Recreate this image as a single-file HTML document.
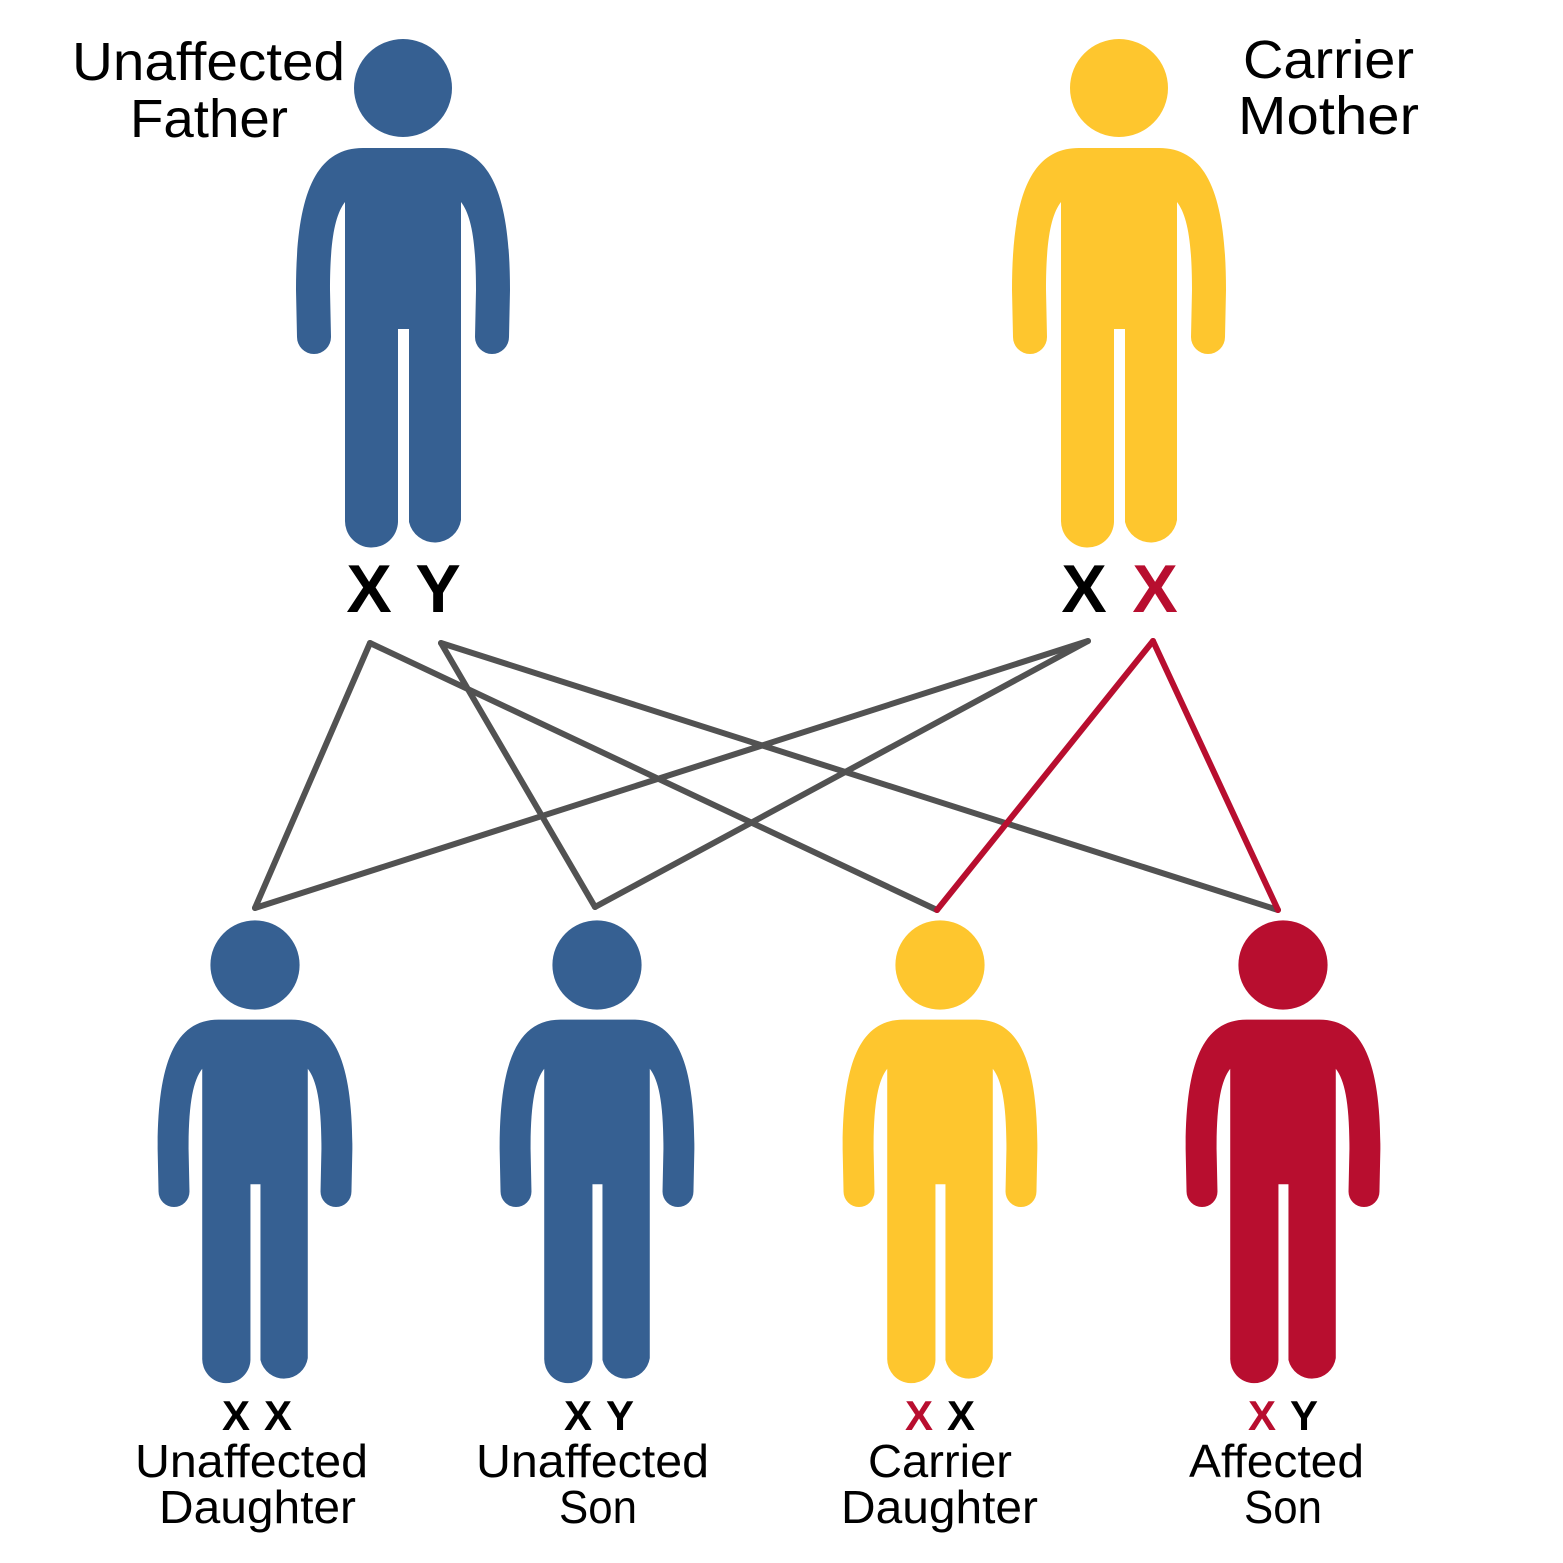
<!DOCTYPE html>
<html><head><meta charset="utf-8"><style>
html,body{margin:0;padding:0;background:#fff;}
svg{display:block;}
text{font-family:"Liberation Sans",sans-serif;}
</style></head><body>
<svg width="1563" height="1563" viewBox="0 0 1563 1563" xmlns="http://www.w3.org/2000/svg">
<defs>
<g id="fig">
<circle cx="0" cy="0" r="49"/>
<path d="M -40 60 H 40 C 90 60 107 112 107 202 L 106 249 A 17 17 0 0 1 72 249 L 73 202 C 73 152 68 127 58 114 L 58 432 A 26.5 26.5 0 0 1 6 434 L 6 241 L -5 241 L -5 434 A 26.5 26.5 0 0 1 -58 432 L -58 114 C -68 127 -73 152 -73 202 L -72 249 A 17 17 0 0 1 -106 249 L -107 202 C -107 112 -90 60 -40 60 Z"/>
</g>
</defs>
<g fill="#366092"><use href="#fig" transform="translate(403,88)"/></g>
<g fill="#fec62e"><use href="#fig" transform="translate(1119,88)"/></g>
<g fill="#366092"><use href="#fig" transform="translate(255,965) scale(0.91)"/></g>
<g fill="#366092"><use href="#fig" transform="translate(597,965) scale(0.91)"/></g>
<g fill="#fec62e"><use href="#fig" transform="translate(940,965) scale(0.91)"/></g>
<g fill="#b80e2f"><use href="#fig" transform="translate(1283,965) scale(0.91)"/></g>

<g stroke="#525252" stroke-width="6" stroke-linecap="round" fill="none">
<line x1="370" y1="643" x2="255" y2="908"/>
<line x1="370" y1="643" x2="937" y2="910"/>
<line x1="441" y1="643" x2="595" y2="907"/>
<line x1="441" y1="643" x2="1278" y2="910"/>
<line x1="1088" y1="641" x2="255" y2="908"/>
<line x1="1088" y1="641" x2="595" y2="907"/>
</g>
<g stroke="#b80e2f" stroke-width="6" stroke-linecap="round" fill="none">
<line x1="1153" y1="641" x2="937" y2="910"/>
<line x1="1153" y1="641" x2="1278" y2="910"/>
</g>

<g font-size="54" fill="#000" lengthAdjust="spacingAndGlyphs">
<text x="72" y="80" textLength="273" lengthAdjust="spacingAndGlyphs">Unaffected</text>
<text x="130" y="137" textLength="158" lengthAdjust="spacingAndGlyphs">Father</text>
<text x="1243" y="78" textLength="171" lengthAdjust="spacingAndGlyphs">Carrier</text>
<text x="1238" y="134" textLength="181" lengthAdjust="spacingAndGlyphs">Mother</text>
</g>
<g font-size="68" font-weight="bold" text-anchor="middle">
<text x="369" y="612" fill="#000">X</text>
<text x="438" y="612" fill="#000">Y</text>
<text x="1084" y="612" fill="#000">X</text>
<text x="1155" y="612" fill="#b80e2f">X</text>
</g>
<g font-size="42" font-weight="bold" text-anchor="middle">
<text x="236" y="1430" fill="#000">X</text>
<text x="278" y="1430" fill="#000">X</text>
<text x="578" y="1430" fill="#000">X</text>
<text x="620" y="1430" fill="#000">Y</text>
<text x="919" y="1430" fill="#b80e2f">X</text>
<text x="961" y="1430" fill="#000">X</text>
<text x="1262" y="1430" fill="#b80e2f">X</text>
<text x="1304" y="1430" fill="#000">Y</text>
</g>
<g font-size="46" fill="#000">
<text x="135" y="1477" textLength="233" lengthAdjust="spacingAndGlyphs">Unaffected</text>
<text x="159" y="1523" textLength="197" lengthAdjust="spacingAndGlyphs">Daughter</text>
<text x="476" y="1477" textLength="233" lengthAdjust="spacingAndGlyphs">Unaffected</text>
<text x="559" y="1523" textLength="78" lengthAdjust="spacingAndGlyphs">Son</text>
<text x="868" y="1477" textLength="144" lengthAdjust="spacingAndGlyphs">Carrier</text>
<text x="841" y="1523" textLength="197" lengthAdjust="spacingAndGlyphs">Daughter</text>
<text x="1189" y="1477" textLength="175" lengthAdjust="spacingAndGlyphs">Affected</text>
<text x="1244" y="1523" textLength="78" lengthAdjust="spacingAndGlyphs">Son</text>
</g>
</svg>
</body></html>
